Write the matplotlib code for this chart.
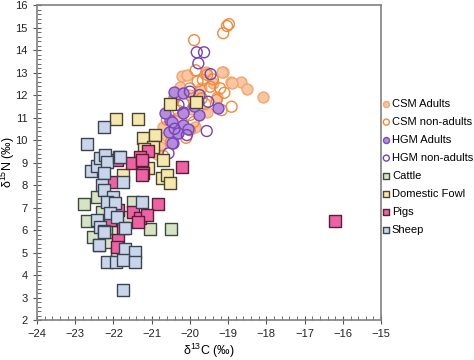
import matplotlib
matplotlib.use('Agg')
import matplotlib.pyplot as plt
from matplotlib.ticker import MultipleLocator

plt.rcParams['font.family'] = ['Liberation Sans', 'DejaVu Sans']
plt.rcParams['mathtext.fontset'] = 'custom'
plt.rcParams['mathtext.rm'] = 'Liberation Sans'

# данные: d13C, d15N
csm_adults_x = [-20.21, -20.08, -19.14, -18.92, -18.66, -18.51, -18.08, -19.59, -19.39, -19.78,
                -20.26, -19.56, -19.87, -20.35, -20.70, -20.78, -19.17, -18.90, -19.95, -20.45,
                -20.60, -19.70, -20.00, -19.30, -20.85]
csm_adults_y = [12.86, 12.89, 13.01, 12.56, 12.56, 12.27, 11.93, 13.01, 12.52, 12.07,
                12.37, 11.26, 10.59, 10.96, 10.60, 9.70, 13.04, 12.55, 11.40, 11.80,
                10.20, 12.30, 12.00, 11.90, 9.40]
csm_non_x = [-19.03, -18.98, -19.13, -19.89, -19.66, -19.47, -19.21, -18.91, -20.00, -20.17,
             -20.00, -19.30, -19.69, -19.17, -20.00, -19.55, -19.80, -20.40, -20.30, -19.90,
             -20.60, -20.70, -19.40, -19.10, -19.60, -20.10, -20.50, -19.85]
csm_non_y = [15.07, 15.15, 14.75, 14.44, 12.67, 12.37, 12.30, 11.48, 12.30, 11.63,
             11.11, 11.78, 11.85, 11.33, 10.44, 12.90, 12.60, 11.90, 11.30, 10.80,
             10.90, 9.30, 12.70, 12.10, 11.60, 10.10, 9.90, 13.10]
hgm_adults_x = [-20.42, -20.17, -19.75, -19.26, -20.52, -20.17, -20.35, -20.43, -20.65, -20.17,
                -20.48, -20.56, -20.30, -20.48, -20.17, -19.90, -20.05, -19.80]
hgm_adults_y = [12.15, 11.26, 11.11, 11.41, 10.89, 10.67, 10.30, 9.85, 11.19, 11.19,
                10.81, 10.37, 10.30, 9.85, 12.10, 11.50, 10.50, 11.70]
hgm_non_x = [-19.82, -19.63, -19.78, -19.46, -19.56, -20.00, -20.56, -20.08, -19.52, -20.30,
             -19.75, -20.40]
hgm_non_y = [13.90, 13.90, 13.41, 12.93, 10.40, 12.15, 9.41, 10.22, 11.70, 11.56,
             12.00, 10.50]
cattle_x = [-22.77, -22.68, -22.44, -22.53, -22.39, -22.13, -22.26, -21.96, -21.52, -21.48,
            -21.04, -20.49, -21.83, -21.91, -22.30, -22.05, -22.20, -21.65]
cattle_y = [7.14, 6.40, 7.45, 5.70, 5.33, 5.48, 6.74, 6.22, 6.44, 7.26,
            6.03, 6.03, 5.11, 4.96, 6.81, 5.90, 6.10, 6.60]
fowl_x = [-21.94, -21.35, -21.22, -20.91, -20.97, -20.70, -20.52, -19.84, -21.74, -21.09,
          -20.74, -20.60, -20.52, -21.20]
fowl_y = [10.93, 10.93, 10.10, 10.22, 9.70, 9.11, 11.60, 11.70, 8.44, 8.74,
          8.30, 8.44, 8.10, 9.60]
pigs_x = [-20.21, -21.09, -21.30, -21.52, -21.26, -21.22, -21.91, -22.04, -21.26, -20.83,
          -21.87, -21.48, -21.30, -21.13, -21.35, -22.09, -21.74, -21.87, -21.91, -16.20,
          -21.25]
pigs_y = [8.81, 9.52, 9.26, 8.96, 8.96, 8.52, 9.11, 8.15, 8.44, 7.14,
          6.89, 6.81, 6.52, 6.67, 6.37, 6.44, 6.07, 5.56, 5.23, 6.40,
          9.10]
sheep_x = [-22.68, -22.25, -22.60, -22.44, -22.35, -22.22, -22.16, -21.85, -22.25, -22.31,
           -22.26, -21.76, -22.00, -22.18, -21.96, -21.26, -22.09, -21.91, -22.44, -22.35,
           -22.24, -21.70, -22.39, -21.70, -21.44, -22.16, -21.93, -21.74, -21.44, -21.74,
           -21.83, -22.26]
sheep_y = [9.82, 10.56, 8.64, 8.86, 9.19, 9.33, 9.01, 9.23, 8.55, 8.00,
           7.78, 8.15, 7.45, 7.26, 7.19, 7.26, 6.77, 6.59, 6.44, 6.15,
           5.97, 6.10, 5.33, 5.14, 5.04, 4.56, 4.56, 4.67, 4.59, 3.33,
           9.26, 5.92]

fig = plt.figure(figsize=(4.74, 3.6), dpi=100)
ax = fig.add_axes([0.078, 0.111, 0.726, 0.875])

sq = 68
cs = 62
ax.scatter(csm_adults_x, csm_adults_y, s=cs, marker='o', facecolor='#f8c6a2', edgecolor='#f3a66e',
           linewidth=1.0, label='CSM Adults', zorder=2)
ax.scatter(csm_non_x, csm_non_y, s=cs, marker='o', facecolor='none', edgecolor='#ef8a3c',
           linewidth=1.0, label='CSM non-adults', zorder=2)
ax.scatter(hgm_adults_x, hgm_adults_y, s=cs, marker='o', facecolor='#b48ed9', edgecolor='#7f46bf',
           linewidth=1.0, label='HGM Adults', zorder=3)
ax.scatter(hgm_non_x, hgm_non_y, s=cs, marker='o', facecolor='none', edgecolor='#7443b8',
           linewidth=1.0, label='HGM non-adults', zorder=3)
ax.scatter(cattle_x, cattle_y, s=sq, marker='s', facecolor='#d6e4c4', edgecolor='#3d4a3d',
           linewidth=1.0, label='Cattle', zorder=4)
ax.scatter(fowl_x, fowl_y, s=sq, marker='s', facecolor='#f6e7aa', edgecolor='#4a4433',
           linewidth=1.0, label='Domestic Fowl', zorder=4)
ax.scatter(pigs_x, pigs_y, s=sq, marker='s', facecolor='#ee62a3', edgecolor='#552038',
           linewidth=1.0, label='Pigs', zorder=4)
ax.scatter(sheep_x, sheep_y, s=sq, marker='s', facecolor='#c8d5ea', edgecolor='#3b4552',
           linewidth=1.0, label='Sheep', zorder=5)

ax.set_xlim(-24, -15)
ax.set_ylim(2, 16)
ax.xaxis.set_major_locator(MultipleLocator(1))
ax.xaxis.set_minor_locator(MultipleLocator(0.2))
ax.yaxis.set_major_locator(MultipleLocator(1))
ax.yaxis.set_minor_locator(MultipleLocator(0.2))
ax.tick_params(which='major', direction='inout', length=6, width=0.8, color='#555555',
               labelsize=8, labelcolor='#222222')
ax.tick_params(which='minor', direction='in', length=3, width=0.6, color='#555555')
for sp in ax.spines.values():
    sp.set_color('#808080')
    sp.set_linewidth(1.2)

ax.set_xlabel(r'δ$^{\mathregular{13}}$C (‰)', fontsize=9)
ax.set_ylabel(r'δ$^{\mathregular{15}}$N (‰)', fontsize=9)
ax.xaxis.set_label_coords(0.5, -0.07)
ax.yaxis.set_label_coords(-0.058, 0.5)

fig.legend(loc='upper left', bbox_to_anchor=(0.808, 0.725), frameon=False, fontsize=8,
           markerscale=0.55, handlelength=0.6, handletextpad=0.2, labelspacing=0.72,
           borderaxespad=0, borderpad=0)

fig.savefig('out.png', dpi=100)
